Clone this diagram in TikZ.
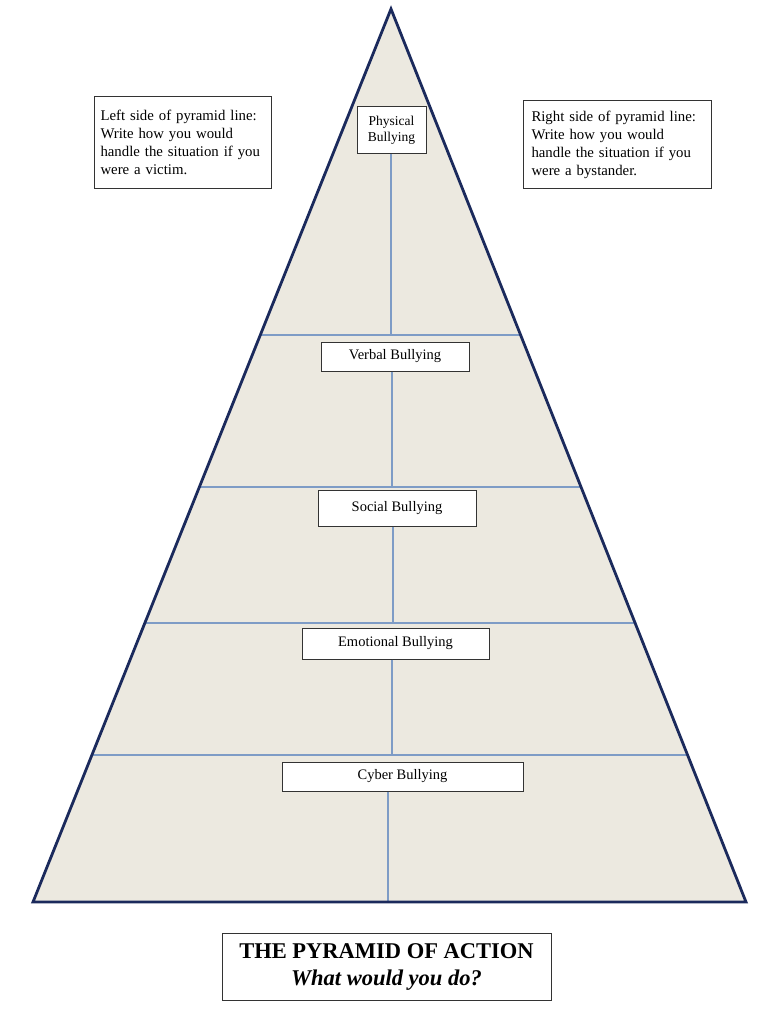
\documentclass[tikz,border=0pt]{standalone}
\usepackage{fontspec}
\setmainfont{Liberation Serif}
\definecolor{pyrfill}{HTML}{ECE9E0}
\definecolor{pyredge}{HTML}{1B2A5C}
\definecolor{divline}{HTML}{7E9CC6}
\definecolor{boxline}{HTML}{333333}
\tikzset{
  labelbox/.style={draw=boxline, line width=1pt, fill=white, inner sep=2pt, font=\fontsize{14.5}{17}\selectfont},
  notebox/.style={draw=boxline, line width=1pt, fill=white, inner xsep=8pt, inner ysep=4pt, align=left, font=\fontsize{14.8}{18}\selectfont},
  divider/.style={draw=divline, line width=1.1pt},
  edge/.style={draw=pyredge, line width=2.8pt, line join=miter},
}
\begin{document}
\begin{tikzpicture}[x=1pt, y=-1pt]
\useasboundingbox (0,0) rectangle (768,1024);
% pyramid
\coordinate (apex) at (391,9);
\coordinate (bl) at (33,902);
\coordinate (br) at (746,902);
\fill[pyrfill] (apex) -- (br) -- (bl) -- cycle;
% horizontal dividers
\coordinate (h1l) at (260.3,335); \coordinate (h1r) at (520.6,335);
\coordinate (h2l) at (199.4,487); \coordinate (h2r) at (581.0,487);
\coordinate (h3l) at (144.9,623); \coordinate (h3r) at (635.1,623);
\coordinate (h4l) at (92.0,755);  \coordinate (h4r) at (687.5,755);
\draw[divider] (h1l) -- (h1r);
\draw[divider] (h2l) -- (h2r);
\draw[divider] (h3l) -- (h3r);
\draw[divider] (h4l) -- (h4r);
% level boxes
\node[labelbox, minimum width=69pt, minimum height=47pt, align=center, font=\fontsize{13.5}{16}\selectfont] (phys) at (391.5,130.5) {Physical\\Bullying};
\node[labelbox, minimum width=148pt, minimum height=29pt] (verb) at (395,356.5) {Verbal Bullying};
\node[labelbox, minimum width=158pt, minimum height=36pt] (soc) at (397,508) {Social Bullying};
\node[labelbox, minimum width=187pt, minimum height=31pt] (emo) at (395.5,643.5) {Emotional Bullying};
\node[labelbox, minimum width=241pt, minimum height=29pt] (cyb) at (402.5,776.5) {Cyber Bullying};
% vertical dividers
\coordinate (v1) at (391,335);
\coordinate (v2) at (392,487);
\coordinate (v3) at (393,623);
\coordinate (v4) at (392,755);
\coordinate (v5) at (388,902);
\draw[divider] (phys.south -| v1) -- (v1);
\draw[divider] (verb.south -| v2) -- (v2);
\draw[divider] (soc.south -| v3) -- (v3);
\draw[divider] (emo.south -| v4) -- (v4);
\draw[divider] (cyb.south -| v5) -- (v5);
% pyramid outline
\draw[edge] (apex) -- (br) -- (bl) -- cycle;
% side notes
\node[notebox, anchor=north west, inner xsep=6pt, text width=165pt, minimum height=92pt] (left) at (94,96)
  {Left side of pyramid line:\\Write how you would\\handle the situation if you\\were a victim.};
\node[notebox, anchor=north west, text width=172pt, minimum height=88pt] (right) at (523,100)
  {Right side of pyramid line:\\Write how you would\\handle the situation if you\\were a bystander.};
% title
\node[draw=boxline, line width=1pt, fill=white, minimum width=329pt, minimum height=67pt, align=center, font=\fontsize{22.5}{27}\selectfont\bfseries] (title) at (386.5,966.5)
  {THE PYRAMID OF ACTION\\{\itshape What would you do?}};
\end{tikzpicture}
\end{document}
